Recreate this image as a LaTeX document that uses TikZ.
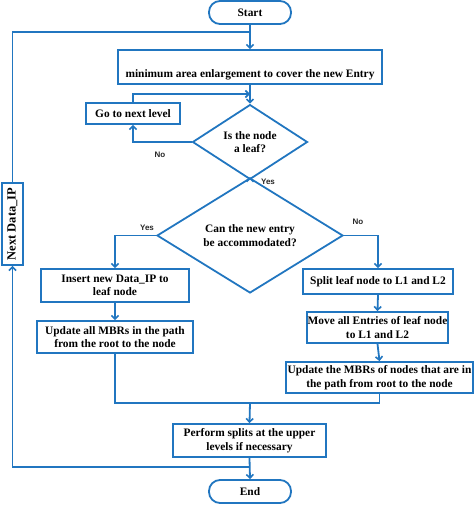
\documentclass[tikz,border=0pt]{standalone}
\usepackage{fontspec}
\setmainfont{Liberation Serif}
\newfontfamily\lblfont{Liberation Sans}
\usetikzlibrary{shapes.geometric,arrows.meta}
\definecolor{flowblue}{RGB}{33,118,192}
\begin{document}
\begin{tikzpicture}[x=1pt,y=-1pt,
  every node/.style={font=\fontsize{11.4}{13.5}\selectfont\bfseries, text=black, align=center},
  procbox/.style={draw=flowblue, line width=1.8pt, rectangle, inner sep=1pt},
  termbox/.style={draw=flowblue, line width=1.8pt, rectangle, rounded corners=11pt, minimum width=82pt, minimum height=22pt},
  decbox/.style={draw=flowblue, line width=1.8pt, diamond, inner sep=0pt},
  conn/.style={draw=flowblue, line width=1.8pt},
  arr/.style={conn, -{Straight Barb[length=3.5pt,width=7pt,line width=1.6pt]}},
  lbl/.style={font=\lblfont\fontsize{8}{9}\selectfont\bfseries, text=black!85}]
\useasboundingbox (0,0) rectangle (474,506);
\node[termbox, minimum height=23pt] (start) at (250,12.5) {Start};
\node[procbox, minimum width=264pt, minimum height=34pt] (box1) at (250,67) {\strut\\ minimum area enlargement to cover the new Entry};
\node[procbox, minimum width=94pt, minimum height=21pt] (gonext) at (133,113.5) {Go to next level};
\node[decbox, minimum width=115pt, minimum height=58pt] (d1) at (250,142) {Is the node\\ a leaf?};
\node[decbox, minimum width=186pt, minimum height=67pt] (d2) at (250,235.5) {Can the new entry\\ be accommodated?};
\node[procbox, minimum width=148pt, minimum height=33pt] (ins) at (115,285.5) {Insert new Data\_IP to\\ leaf node};
\node[procbox, minimum width=156pt, minimum height=32pt] (upd) at (115,337) {Update all MBRs in the path\\ from the root to the node};
\node[procbox, minimum width=150pt, minimum height=25pt] (split) at (378,281.5) {Split leaf node to L1 and L2};
\node[procbox, minimum width=141pt, minimum height=31pt] (move) at (377.5,327.5) {Move all Entries of leaf node\\ to L1 and L2};
\node[procbox, minimum width=187pt, minimum height=31pt] (updm) at (379.5,377.5) {Update the MBRs of nodes that are in\\ the path from root to the node};
\node[procbox, minimum width=153pt, minimum height=33pt] (perf) at (249.5,440.5) {Perform splits at the upper\\ levels if necessary};
\node[termbox, minimum height=23pt] (end) at (250,491.5) {End};
\node[procbox, minimum width=21pt, minimum height=82pt, inner sep=0pt] (next) at (12.5,224) {\rotatebox{90}{\fontsize{12.5}{14}\selectfont Next Data\_IP}};
\coordinate (j1) at (250,32);
\coordinate (j2) at (250,94);
\coordinate (j3) at (250,403);
\coordinate (j4) at (250,467);
\draw[arr] (start.south) -- (box1.north);
\draw[conn] (next.north) |- (j1);
\draw[arr] (box1.south) -- (d1.north);
\draw[arr] (gonext.north) |- (j2);
\draw[arr] (d1.west) -| (gonext.south);
\draw[arr] (d1.south) -- (d2.north);
\draw[arr] (d2.west) -| (ins.north);
\draw[arr] (d2.east) -| (split.north);
\draw[arr] (ins.south) -- (upd.north);
\draw[arr] (split.south) -- (move.north);
\draw[arr] (move.south) -- (updm.north);
\draw[conn] (upd.south) |- (j3) -| (updm.south);
\draw[arr] (j3) -- (perf.north);
\draw[arr] (perf.south) -- (end.north);
\draw[arr] (j4) -| (next.south);
\node[lbl] (lno1) at (160,155) {No};
\node[lbl] (lyes1) at (268,182) {Yes};
\node[lbl] (lyes2) at (147,228) {Yes};
\node[lbl] (lno2) at (358,222) {No};
\end{tikzpicture}
\end{document}
